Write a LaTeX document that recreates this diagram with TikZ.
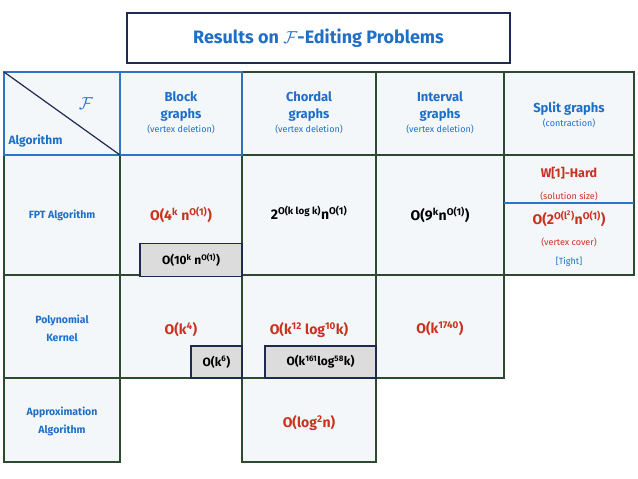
\documentclass[tikz,border=0pt]{standalone}
\usepackage{amsmath}
\usepackage{fontspec}
\setmainfont{Fira Sans}
\newcommand{\sps}[1]{\textsuperscript{#1}}
\newcommand{\smtxt}{\fontsize{9}{11}\selectfont\mdseries}
\begin{document}
\begin{tikzpicture}[x=1pt,y=-1pt,
  cell/.style={draw=#1,line width=1.2pt,fill=cellbg},
  sbox/.style={draw=boxdk,line width=1.2pt,fill=boxgray,inner sep=2pt,font=\fontsize{12}{14}\selectfont\bfseries},
  hd/.style={text=hblue,align=center,font=\fontsize{13}{17}\selectfont\bfseries},
  rowl/.style={text=hblue,align=center,font=\fontsize{10.5}{18}\selectfont\bfseries},
  res/.style={font=\fontsize{14}{16}\selectfont\bfseries}]
\definecolor{cellbg}{HTML}{F3F7FA}
\definecolor{hblue}{HTML}{1F6FC9}
\definecolor{rred}{HTML}{C8321E}
\definecolor{gline}{HTML}{2E4A2E}
\definecolor{bline}{HTML}{2F74C0}
\definecolor{boxdk}{HTML}{1E2A50}
\definecolor{boxgray}{HTML}{DCDCDC}
\useasboundingbox (0,0) rectangle (638,479);
% title
\node[draw=boxdk,line width=1.5pt,minimum width=383pt,minimum height=50pt,text=hblue,font=\fontsize{18}{20}\selectfont\bfseries] (title) at (318.5,38) {Results on $\mathcal{F}$-Editing Problems};
% grid cells
\draw[cell=gline] (4,155) rectangle (120,275);
\draw[cell=gline] (120,155) rectangle (242,275);
\draw[cell=gline] (242,155) rectangle (376,275);
\draw[cell=gline] (376,155) rectangle (504,275);
\draw[cell=gline] (504,155) rectangle (634,275);
\draw[cell=gline] (4,275) rectangle (120,378);
\draw[cell=gline] (120,275) rectangle (242,378);
\draw[cell=gline] (242,275) rectangle (376,378);
\draw[cell=gline] (376,275) rectangle (504,378);
\draw[cell=gline] (4,378) rectangle (120,462);
\draw[cell=gline] (242,378) rectangle (376,462);
\draw[cell=gline] (242,72) rectangle (376,155);
\draw[cell=gline] (376,72) rectangle (504,155);
\draw[cell=gline] (504,72) rectangle (634,155);
\draw[cell=bline] (4,72) rectangle (120,155);
\draw[cell=bline] (120,72) rectangle (242,155);
\draw[bline,line width=1.2pt] (504,203) -- (634,203);
\draw[boxdk,line width=1.2pt] (4,72) -- (120,155);
% header
\node[text=hblue,font=\fontsize{18}{20}\selectfont] (F) at (86,104) {$\mathcal{F}$};
\node[text=hblue,font=\fontsize{12}{14}\selectfont\bfseries,anchor=west] (alg) at (5,141) {Algorithm};
\node[hd] (h1) at (181,113) {Block\\graphs\\[-3pt]{\smtxt (vertex deletion)}};
\node[hd] (h2) at (309,113) {Chordal\\graphs\\[-3pt]{\smtxt (vertex deletion)}};
\node[hd] (h3) at (440,113) {Interval\\graphs\\[-3pt]{\smtxt (vertex deletion)}};
\node[hd] (h4) at (569,115) {Split graphs\\[-3pt]{\smtxt (contraction)}};
% row labels
\node[rowl] (r1) at (62,215) {FPT Algorithm};
\node[rowl] (r2) at (62,328) {Polynomial\\Kernel};
\node[rowl] (r3) at (62,421) {Approximation\\Algorithm};
% FPT row
\node[res,text=rred] (b1) at (181,215) {O(4\sps{k} n\sps{O(1)})};
\node[sbox,minimum width=102pt,minimum height=33pt] (b1s) at (191,260) {O(10\sps{k} n\sps{O(1)})};
\node[res] (c1) at (309,213) {2\sps{O(k log k)}n\sps{O(1)}};
\node[res] (i1) at (440,215) {O(9\sps{k}n\sps{O(1)})};
\node[text=rred,font=\fontsize{12.5}{14}\selectfont\bfseries] (s1) at (569,173) {W[1]-Hard};
\node[text=rred,font=\fontsize{9}{11}\selectfont] (s2) at (569,196) {(solution size)};
\node[res,text=rred] (s3) at (569,219) {O(2\sps{O(l\sps{2})}n\sps{O(1)})};
\node[text=rred,font=\fontsize{9}{11}\selectfont] (s4) at (569,242) {(vertex cover)};
\node[text=hblue,font=\fontsize{9}{11}\selectfont] (s5) at (569,262) {[Tight]};
% kernel row
\node[res,text=rred] (b2) at (181,330) {O(k\sps{4})};
\node[sbox,minimum width=51pt,minimum height=32pt] (b2s) at (216.5,362) {O(k\sps{6})};
\node[res,text=rred] (c2) at (309,330) {O(k\sps{12} log\sps{10}k)};
\node[sbox,minimum width=111pt,minimum height=32pt] (c2s) at (320.5,362) {O(k\sps{161}log\sps{58}k)};
\node[res,text=rred] (i2) at (440,329) {O(k\sps{1740})};
% approx row
\node[res,text=rred] (c3) at (309,423) {O(log\sps{2}n)};
\end{tikzpicture}
\end{document}
